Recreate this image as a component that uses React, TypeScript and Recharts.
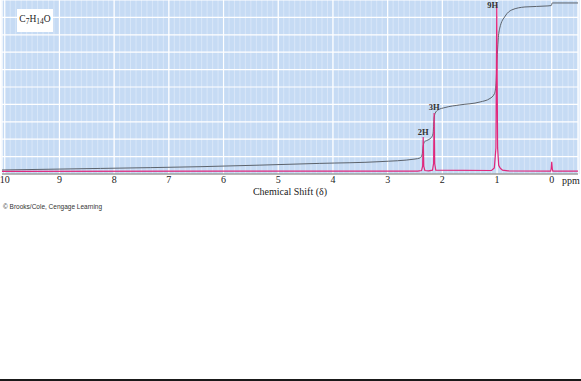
import React from 'react';
import {
  LineChart,
  Line,
  XAxis,
  YAxis,
  CartesianGrid,
  ReferenceDot,
} from 'recharts';

// chemical shift ticks (ppm), drawn right-to-left
const ppmTicks = [10, 9, 8, 7, 6, 5, 4, 3, 2, 1, 0];
const levelTicks = [0, 1, 2, 3, 4, 5, 6, 7, 8, 9, 10];
const minorTicks = Array.from({ length: 106 }, (_, i) => Math.round((i * 0.1 - 0.5) * 10) / 10);

// 1H spectrum trace
const spectrumPpm = [
  10.05, 6, 2.45, 2.38, 2.36, 2.35, 2.34, 2.32, 2.25, 2.18, 2.16, 2.15, 2.14, 2.12,
  1.1, 1.05, 1.02, 1.005, 0.99, 0.97, 0.95, 0.93, 0.9, 0.8, 0.02, 0.01, 0.0, -0.01, -0.02, -0.5,
];
const spectrumIntensity = [
  0.15, 0.16, 0.17, 0.2, 0.45, 2.13, 0.45, 0.2, 0.18, 0.22, 0.6, 3.5, 0.6, 0.22,
  0.2, 0.35, 1.5, 9.8, 1.5, 0.5, 0.38, 0.3, 0.22, 0.18, 0.17, 0.3, 0.7, 0.3, 0.17, 0.17,
];

// integration trace
const integralPpm = [
  10.05, 8.25, 6.43, 4.24, 3.14, 2.5, 2.41, 2.37, 2.35, 2.33, 2.28, 2.21, 2.17, 2.15,
  2.13, 2.08, 1.95, 1.68, 1.31, 1.13, 1.05, 1.02, 1.0, 0.98, 0.95, 0.85, 0.73, 0.49,
  0.07, 0.01, -0.01, -0.5,
];
const integralValue = [
  0.23, 0.32, 0.42, 0.61, 0.71, 0.86, 0.92, 1.09, 1.6, 1.84, 1.93, 2.07, 2.3, 3.22,
  3.5, 3.68, 3.82, 3.97, 4.14, 4.34, 4.6, 5.11, 6.55, 7.7, 8.39, 9.08, 9.43, 9.6,
  9.66, 9.68, 9.83, 9.83,
];

const peakLabels = [
  { ppm: 2.35, level: 2.43, text: '2H' },
  { ppm: 2.15, level: 3.87, text: '3H' },
  { ppm: 1.08, level: 9.71, text: '9H' },
];

const spectrum = spectrumPpm.map((ppm, i) => ({ ppm, v: spectrumIntensity[i] }));
const integral = integralPpm.map((ppm, i) => ({ ppm, v: integralValue[i] }));

const serif = '"Liberation Serif", "Times New Roman", serif';
const ppmDomain = [-0.48, 10.05];

const NoTick = () => <g />;

export default function App() {
  return (
    <div style={{ position: 'absolute', left: 0, top: 0, width: 581, height: 381, background: '#fff' }}>
      <LineChart width={581} height={200} margin={{ top: 0, right: 3, left: 2, bottom: 0 }}>
        <CartesianGrid
          xAxisId="minor"
          fill="#c6dbf4"
          stroke="#d8e6f8"
          horizontal={false}
        />
        <CartesianGrid stroke="#ffffff" strokeWidth={1.2} />
        <XAxis
          xAxisId="minor"
          dataKey="ppm"
          type="number"
          domain={ppmDomain}
          reversed
          allowDataOverflow
          ticks={minorTicks}
          interval={0}
          hide
        />
        <XAxis
          dataKey="ppm"
          type="number"
          domain={ppmDomain}
          reversed
          allowDataOverflow
          ticks={ppmTicks}
          interval={0}
          height={26}
          tickLine={false}
          tickSize={0}
          tickMargin={2}
          axisLine={{ stroke: '#6f6f6f' }}
          tick={{ fontSize: 10, fill: '#222', fontFamily: serif }}
          label={{
            value: 'Chemical Shift (δ)',
            position: 'insideBottom',
            offset: 5,
            fontSize: 10,
            fill: '#222',
            fontFamily: serif,
          }}
        />
        <YAxis
          type="number"
          domain={[0, 10]}
          ticks={levelTicks}
          interval={0}
          allowDataOverflow
          width={0}
          tick={NoTick}
          tickLine={false}
          axisLine={{ stroke: '#6f6f6f' }}
        />
        <YAxis
          yAxisId="r"
          orientation="right"
          domain={[0, 10]}
          width={0}
          tick={NoTick}
          tickLine={false}
          axisLine={{ stroke: '#6f6f6f' }}
        />
        <Line
          data={integral}
          dataKey="v"
          type="monotone"
          stroke="#5c636c"
          strokeWidth={1}
          dot={false}
          isAnimationActive={false}
        />
        <Line
          data={spectrum}
          dataKey="v"
          type="linear"
          stroke="#e0287c"
          strokeWidth={1.2}
          dot={false}
          isAnimationActive={false}
        />
        {peakLabels.map((p) => (
          <ReferenceDot
            key={p.text}
            x={p.ppm}
            y={p.level}
            r={0}
            fill="none"
            stroke="none"
            label={{
              value: p.text,
              position: 'center',
              fontSize: 8.5,
              fontWeight: 'bold',
              fill: '#333',
              fontFamily: serif,
            }}
          />
        ))}
      </LineChart>
      <div
        style={{
          position: 'absolute',
          left: 17,
          top: 9,
          width: 36,
          height: 23,
          background: '#fff',
          fontFamily: serif,
          fontSize: 9.5,
          color: '#222',
          display: 'flex',
          alignItems: 'center',
          justifyContent: 'center',
          lineHeight: 1,
        }}
      >
        <span>
          C<sub style={{ fontSize: 7.5, verticalAlign: -2 }}>7</sub>H
          <sub style={{ fontSize: 7.5, verticalAlign: -2 }}>14</sub>O
        </span>
      </div>
      <div
        style={{
          position: 'absolute',
          left: 562,
          top: 175,
          fontFamily: serif,
          fontSize: 10,
          color: '#222',
        }}
      >
        ppm
      </div>
      <div
        style={{
          position: 'absolute',
          left: 3,
          top: 203,
          fontFamily: '"Liberation Sans", Arial, sans-serif',
          fontSize: 6.5,
          color: '#333',
        }}
      >
        © Brooks/Cole, Cengage Learning
      </div>
      <div style={{ position: 'absolute', left: 0, top: 379, width: 581, height: 2, background: '#1a1a1a' }} />
    </div>
  );
}
